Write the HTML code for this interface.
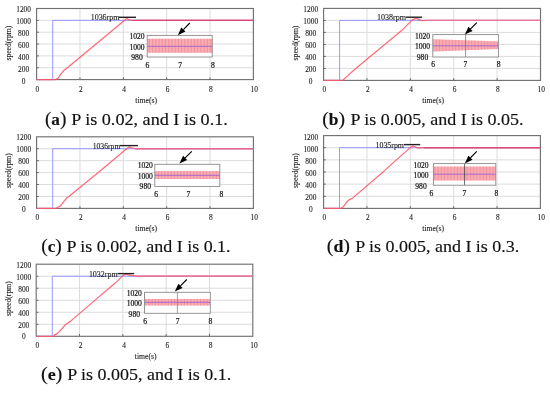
<!DOCTYPE html>
<html><head><meta charset="utf-8"><title>Speed response figures</title>
<style>
html,body{margin:0;padding:0;background:#fff;}
body{width:550px;height:394px;overflow:hidden;}
svg{display:block;filter:blur(0.35px);}
.gr{stroke:#dcdcdc;stroke-width:1;}
.tk{stroke:#555;stroke-width:0.9;}
.fr{fill:none;stroke:#707070;stroke-width:1.15;}
.bl{fill:none;stroke:#9494ff;stroke-width:0.95;}
.rd{fill:none;stroke:#ff5060;stroke-width:1.25;stroke-linejoin:round;stroke-opacity:0.85;}
.rf{stroke-width:1.3;stroke-opacity:0.95;}
.ax{font-family:"Liberation Serif", serif;font-size:7.4px;fill:#1a1a1a;stroke:#1a1a1a;stroke-width:0.1;}
.sp{font-size:7.2px;}
.ai{font-family:"Liberation Serif", serif;font-size:7.6px;fill:#111;stroke:#111;stroke-width:0.2;}
.pk{stroke:#222;stroke-width:1.4;}
.ib{stroke:#a56ad0;stroke-width:1;}
.st{stroke:#f37280;stroke-width:0.7;fill:none;}
.ig{stroke-width:0.8;}
.ifr{fill:none;stroke:#8a8a8a;stroke-width:0.9;}
.ar{stroke:#000;stroke-width:1.1;}
.cap{font-family:"Liberation Serif", serif;font-size:16.5px;fill:#111;stroke:#111;stroke-width:0.15;}
.cpl{font-size:19px;}
</style></head>
<body>
<svg width="550" height="394" viewBox="0 0 550 394">
<g><line x1="79.96" y1="8.5" x2="79.96" y2="79.6" class="gr"/>
<line x1="123.32" y1="8.5" x2="123.32" y2="79.6" class="gr"/>
<line x1="166.68" y1="8.5" x2="166.68" y2="79.6" class="gr"/>
<line x1="210.04" y1="8.5" x2="210.04" y2="79.6" class="gr"/>
<line x1="36.6" y1="67.75" x2="253.4" y2="67.75" class="gr"/>
<line x1="36.6" y1="55.9" x2="253.4" y2="55.9" class="gr"/>
<line x1="36.6" y1="44.05" x2="253.4" y2="44.05" class="gr"/>
<line x1="36.6" y1="32.2" x2="253.4" y2="32.2" class="gr"/>
<line x1="36.6" y1="20.35" x2="253.4" y2="20.35" class="gr"/>
<line x1="79.96" y1="79.6" x2="79.96" y2="77.4" class="tk"/>
<line x1="123.32" y1="79.6" x2="123.32" y2="77.4" class="tk"/>
<line x1="166.68" y1="79.6" x2="166.68" y2="77.4" class="tk"/>
<line x1="210.04" y1="79.6" x2="210.04" y2="77.4" class="tk"/>
<line x1="36.6" y1="67.75" x2="38.8" y2="67.75" class="tk"/>
<line x1="36.6" y1="55.9" x2="38.8" y2="55.9" class="tk"/>
<line x1="36.6" y1="44.05" x2="38.8" y2="44.05" class="tk"/>
<line x1="36.6" y1="32.2" x2="38.8" y2="32.2" class="tk"/>
<line x1="36.6" y1="20.35" x2="38.8" y2="20.35" class="tk"/>
<rect x="36.6" y="8.5" width="216.8" height="71.1" class="fr"/>
<polyline points="36.6,79.6 52.7,79.6 52.7,20.35 253.4,20.35" class="bl"/>
<polyline points="36.6,79.6 55.2,79.6 58.3,78 61,73.8 63.7,70.6 67.1,68 95.75,44.3 124.3,20.4 126.7,18.4 130,20.2 133,20.4 253.4,20.35" class="rd"/>
<line x1="133" y1="20.35" x2="253.4" y2="20.35" class="rf" stroke="#d84478"/>
<text x="23.6" y="83.7" class="ax" text-anchor="middle">0</text>
<text x="23.6" y="72.45" class="ax" text-anchor="middle">200</text>
<text x="23.6" y="60.4" class="ax" text-anchor="middle">400</text>
<text x="23.6" y="48.35" class="ax" text-anchor="middle">600</text>
<text x="23.6" y="36.3" class="ax" text-anchor="middle">800</text>
<text x="23.6" y="24.25" class="ax" text-anchor="middle">1000</text>
<text x="23.6" y="12.2" class="ax" text-anchor="middle">1200</text>
<text x="37.4" y="92.3" class="ax" text-anchor="middle">0</text>
<text x="80.76" y="92.3" class="ax" text-anchor="middle">2</text>
<text x="124.12" y="92.3" class="ax" text-anchor="middle">4</text>
<text x="167.48" y="92.3" class="ax" text-anchor="middle">6</text>
<text x="210.84" y="92.3" class="ax" text-anchor="middle">8</text>
<text x="254.2" y="92.3" class="ax" text-anchor="middle">10</text>
<text x="135.3" y="102.9" class="ax" textLength="21.8" lengthAdjust="spacingAndGlyphs">time(s)</text>
<text transform="translate(10.95,43.2) rotate(-90)" class="ax sp" x="-17.4" textLength="34.8" lengthAdjust="spacingAndGlyphs">speed(rpm)</text>
<text x="90.7" y="20.3" class="ax" textLength="28.7" lengthAdjust="spacingAndGlyphs">1036rpm</text>
<line x1="119" y1="17.3" x2="136" y2="17.3" class="pk"/>
<rect x="147.2" y="35.4" width="65" height="21.6" fill="#fff" stroke="none"/>
<polygon points="147.7,38.8 211.7,38.8 211.7,52.8 147.7,52.8" fill="#fbd0d4"/>
<path d="M148.1 38.8V52.8M149.55 38.8V52.8M151 38.8V52.8M152.45 38.8V52.8M153.9 38.8V52.8M155.35 38.8V52.8M156.8 38.8V52.8M158.25 38.8V52.8M159.7 38.8V52.8M161.15 38.8V52.8M162.6 38.8V52.8M164.05 38.8V52.8M165.5 38.8V52.8M166.95 38.8V52.8M168.4 38.8V52.8M169.85 38.8V52.8M171.3 38.8V52.8M172.75 38.8V52.8M174.2 38.8V52.8M175.65 38.8V52.8M177.1 38.8V52.8M178.55 38.8V52.8M180 38.8V52.8M181.45 38.8V52.8M182.9 38.8V52.8M184.35 38.8V52.8M185.8 38.8V52.8M187.25 38.8V52.8M188.7 38.8V52.8M190.15 38.8V52.8M191.6 38.8V52.8M193.05 38.8V52.8M194.5 38.8V52.8M195.95 38.8V52.8M197.4 38.8V52.8M198.85 38.8V52.8M200.3 38.8V52.8M201.75 38.8V52.8M203.2 38.8V52.8M204.65 38.8V52.8M206.1 38.8V52.8M207.55 38.8V52.8M209 38.8V52.8M210.45 38.8V52.8M211.9 38.8V52.8" class="st"/>
<line x1="147.2" y1="46.3" x2="212.2" y2="46.3" class="ib"/>
<rect x="147.2" y="35.4" width="65" height="21.6" class="ifr"/>
<text x="137" y="39.4" class="ai" text-anchor="middle">1020</text>
<text x="137" y="49.5" class="ai" text-anchor="middle">1000</text>
<text x="137" y="59.9" class="ai" text-anchor="middle">980</text>
<text x="147.5" y="67.7" class="ai" text-anchor="middle">6</text>
<text x="180.2" y="67.7" class="ai" text-anchor="middle">7</text>
<text x="213" y="67.7" class="ai" text-anchor="middle">8</text>
<line x1="189.8" y1="23" x2="183.39" y2="29.57" class="ar"/>
<polygon points="177.8,35.3 181.31,27.55 185.46,31.6" fill="#000"/>
<text x="44.9" y="124.9" class="cap cpl" textLength="21.5" lengthAdjust="spacingAndGlyphs">(<tspan font-weight="bold" font-size="16.8px">a</tspan>)</text>
<text x="71.2" y="124.9" class="cap" textLength="156.6" lengthAdjust="spacingAndGlyphs">P is 0.02, and I is 0.1.</text></g>
<g><line x1="366.98" y1="8.4" x2="366.98" y2="80.4" class="gr"/>
<line x1="410.36" y1="8.4" x2="410.36" y2="80.4" class="gr"/>
<line x1="453.74" y1="8.4" x2="453.74" y2="80.4" class="gr"/>
<line x1="497.12" y1="8.4" x2="497.12" y2="80.4" class="gr"/>
<line x1="323.6" y1="68.4" x2="540.5" y2="68.4" class="gr"/>
<line x1="323.6" y1="56.4" x2="540.5" y2="56.4" class="gr"/>
<line x1="323.6" y1="44.4" x2="540.5" y2="44.4" class="gr"/>
<line x1="323.6" y1="32.4" x2="540.5" y2="32.4" class="gr"/>
<line x1="323.6" y1="20.4" x2="540.5" y2="20.4" class="gr"/>
<line x1="366.98" y1="80.4" x2="366.98" y2="78.2" class="tk"/>
<line x1="410.36" y1="80.4" x2="410.36" y2="78.2" class="tk"/>
<line x1="453.74" y1="80.4" x2="453.74" y2="78.2" class="tk"/>
<line x1="497.12" y1="80.4" x2="497.12" y2="78.2" class="tk"/>
<line x1="323.6" y1="68.4" x2="325.8" y2="68.4" class="tk"/>
<line x1="323.6" y1="56.4" x2="325.8" y2="56.4" class="tk"/>
<line x1="323.6" y1="44.4" x2="325.8" y2="44.4" class="tk"/>
<line x1="323.6" y1="32.4" x2="325.8" y2="32.4" class="tk"/>
<line x1="323.6" y1="20.4" x2="325.8" y2="20.4" class="tk"/>
<rect x="323.6" y="8.4" width="216.9" height="72" class="fr"/>
<polyline points="323.6,80.4 339.6,80.4 339.6,20.4 540.5,20.4" class="bl"/>
<polyline points="323.6,80.4 342.6,80.4 345.5,77.8 348,75.6 351.3,72.4 355.8,68.6 384.7,44.5 402.9,29.4 411.8,20.4 415.7,18.4 422.1,20.6 426,20.4 540.5,20.4" class="rd"/>
<line x1="426" y1="20.4" x2="540.5" y2="20.4" class="rf" stroke="#e47aa0"/>
<text x="310.7" y="83.7" class="ax" text-anchor="middle">0</text>
<text x="310.7" y="72.45" class="ax" text-anchor="middle">200</text>
<text x="310.7" y="60.4" class="ax" text-anchor="middle">400</text>
<text x="310.7" y="48.35" class="ax" text-anchor="middle">600</text>
<text x="310.7" y="36.3" class="ax" text-anchor="middle">800</text>
<text x="310.7" y="24.25" class="ax" text-anchor="middle">1000</text>
<text x="310.7" y="12.2" class="ax" text-anchor="middle">1200</text>
<text x="324.4" y="92.1" class="ax" text-anchor="middle">0</text>
<text x="367.78" y="92.1" class="ax" text-anchor="middle">2</text>
<text x="411.16" y="92.1" class="ax" text-anchor="middle">4</text>
<text x="454.54" y="92.1" class="ax" text-anchor="middle">6</text>
<text x="497.92" y="92.1" class="ax" text-anchor="middle">8</text>
<text x="541.3" y="92.1" class="ax" text-anchor="middle">10</text>
<text x="422.35" y="103" class="ax" textLength="21.8" lengthAdjust="spacingAndGlyphs">time(s)</text>
<text transform="translate(298.4,43) rotate(-90)" class="ax sp" x="-17.4" textLength="34.8" lengthAdjust="spacingAndGlyphs">speed(rpm)</text>
<text x="376.9" y="20.2" class="ax" textLength="29" lengthAdjust="spacingAndGlyphs">1038rpm</text>
<line x1="405.8" y1="17.2" x2="422.1" y2="17.2" class="pk"/>
<rect x="432.8" y="34.6" width="65.6" height="22.4" fill="#fff" stroke="none"/>
<polygon points="433.3,39.2 497.9,41.4 497.9,49 433.3,51.5" fill="#fbd0d4"/>
<path d="M433.7 39.23V51.47M435.15 39.28V51.41M436.6 39.33V51.36M438.05 39.38V51.3M439.5 39.42V51.24M440.95 39.47V51.19M442.4 39.52V51.13M443.85 39.57V51.08M445.3 39.62V51.02M446.75 39.67V50.97M448.2 39.72V50.91M449.65 39.77V50.86M451.1 39.81V50.8M452.55 39.86V50.75M454 39.91V50.69M455.45 39.96V50.64M456.9 40.01V50.58M458.35 40.06V50.53M459.8 40.11V50.47M461.25 40.15V50.42M462.7 40.2V50.36M464.15 40.25V50.31M465.6 40.3V50.25M467.05 40.35V50.19M468.5 40.4V50.14M469.95 40.45V50.08M471.4 40.49V50.03M472.85 40.54V49.97M474.3 40.59V49.92M475.75 40.64V49.86M477.2 40.69V49.81M478.65 40.74V49.75M480.1 40.79V49.7M481.55 40.83V49.64M483 40.88V49.59M484.45 40.93V49.53M485.9 40.98V49.48M487.35 41.03V49.42M488.8 41.08V49.37M490.25 41.13V49.31M491.7 41.18V49.26M493.15 41.22V49.2M494.6 41.27V49.14M496.05 41.32V49.09M497.5 41.37V49.03" class="st"/>
<line x1="432.8" y1="45.8" x2="498.4" y2="45.8" class="ib"/>
<line x1="465.6" y1="34.6" x2="465.6" y2="57" class="ig" stroke="#777"/>
<rect x="432.8" y="34.6" width="65.6" height="22.4" class="ifr"/>
<text x="422.5" y="39.2" class="ai" text-anchor="middle">1020</text>
<text x="422.5" y="49" class="ai" text-anchor="middle">1000</text>
<text x="422.5" y="60.2" class="ai" text-anchor="middle">980</text>
<text x="433.1" y="67.3" class="ai" text-anchor="middle">6</text>
<text x="465.5" y="67.3" class="ai" text-anchor="middle">7</text>
<text x="498.6" y="67.3" class="ai" text-anchor="middle">8</text>
<line x1="476.8" y1="22.7" x2="470.53" y2="28.82" class="ar"/>
<polygon points="464.8,34.4 468.5,26.74 472.55,30.89" fill="#000"/>
<text x="322.3" y="124.6" class="cap cpl" textLength="22.8" lengthAdjust="spacingAndGlyphs">(<tspan font-weight="bold" font-size="16.8px">b</tspan>)</text>
<text x="350.4" y="124.6" class="cap" textLength="173.2" lengthAdjust="spacingAndGlyphs">P is 0.005, and I is 0.05.</text></g>
<g><line x1="79.96" y1="136.8" x2="79.96" y2="208.4" class="gr"/>
<line x1="123.32" y1="136.8" x2="123.32" y2="208.4" class="gr"/>
<line x1="166.68" y1="136.8" x2="166.68" y2="208.4" class="gr"/>
<line x1="210.04" y1="136.8" x2="210.04" y2="208.4" class="gr"/>
<line x1="36.6" y1="196.47" x2="253.4" y2="196.47" class="gr"/>
<line x1="36.6" y1="184.53" x2="253.4" y2="184.53" class="gr"/>
<line x1="36.6" y1="172.6" x2="253.4" y2="172.6" class="gr"/>
<line x1="36.6" y1="160.67" x2="253.4" y2="160.67" class="gr"/>
<line x1="36.6" y1="148.73" x2="253.4" y2="148.73" class="gr"/>
<line x1="79.96" y1="208.4" x2="79.96" y2="206.2" class="tk"/>
<line x1="123.32" y1="208.4" x2="123.32" y2="206.2" class="tk"/>
<line x1="166.68" y1="208.4" x2="166.68" y2="206.2" class="tk"/>
<line x1="210.04" y1="208.4" x2="210.04" y2="206.2" class="tk"/>
<line x1="36.6" y1="196.47" x2="38.8" y2="196.47" class="tk"/>
<line x1="36.6" y1="184.53" x2="38.8" y2="184.53" class="tk"/>
<line x1="36.6" y1="172.6" x2="38.8" y2="172.6" class="tk"/>
<line x1="36.6" y1="160.67" x2="38.8" y2="160.67" class="tk"/>
<line x1="36.6" y1="148.73" x2="38.8" y2="148.73" class="tk"/>
<rect x="36.6" y="136.8" width="216.8" height="71.6" class="fr"/>
<polyline points="36.6,208.4 52.7,208.4 52.7,148.73 253.4,148.73" class="bl"/>
<polyline points="36.6,208.4 56,208.4 58.8,206.7 60.5,205.9 63.3,202.2 67.2,197.5 68.8,196.4 98.3,172.5 126.9,148.6 129.1,146.9 132.5,148 135.5,148.7 253.4,148.73" class="rd"/>
<line x1="135.5" y1="148.73" x2="253.4" y2="148.73" class="rf" stroke="#e26a98"/>
<text x="23.75" y="211.7" class="ax" text-anchor="middle">0</text>
<text x="23.75" y="200.45" class="ax" text-anchor="middle">200</text>
<text x="23.75" y="188.4" class="ax" text-anchor="middle">400</text>
<text x="23.75" y="176.35" class="ax" text-anchor="middle">600</text>
<text x="23.75" y="164.3" class="ax" text-anchor="middle">800</text>
<text x="23.75" y="152.25" class="ax" text-anchor="middle">1000</text>
<text x="23.75" y="140.2" class="ax" text-anchor="middle">1200</text>
<text x="37.4" y="220.1" class="ax" text-anchor="middle">0</text>
<text x="80.76" y="220.1" class="ax" text-anchor="middle">2</text>
<text x="124.12" y="220.1" class="ax" text-anchor="middle">4</text>
<text x="167.48" y="220.1" class="ax" text-anchor="middle">6</text>
<text x="210.84" y="220.1" class="ax" text-anchor="middle">8</text>
<text x="254.2" y="220.1" class="ax" text-anchor="middle">10</text>
<text x="135.3" y="231" class="ax" textLength="21.8" lengthAdjust="spacingAndGlyphs">time(s)</text>
<text transform="translate(10.7,170.6) rotate(-90)" class="ax sp" x="-17.4" textLength="34.8" lengthAdjust="spacingAndGlyphs">speed(rpm)</text>
<text x="92.7" y="148.6" class="ax" textLength="27.7" lengthAdjust="spacingAndGlyphs">1036rpm</text>
<line x1="120" y1="145.6" x2="138" y2="145.6" class="pk"/>
<rect x="154.8" y="164.3" width="65" height="22.1" fill="#fff" stroke="none"/>
<polygon points="155.3,171.1 219.3,171.1 219.3,179 155.3,179" fill="#fbd0d4"/>
<path d="M155.7 171.1V179M157.15 171.1V179M158.6 171.1V179M160.05 171.1V179M161.5 171.1V179M162.95 171.1V179M164.4 171.1V179M165.85 171.1V179M167.3 171.1V179M168.75 171.1V179M170.2 171.1V179M171.65 171.1V179M173.1 171.1V179M174.55 171.1V179M176 171.1V179M177.45 171.1V179M178.9 171.1V179M180.35 171.1V179M181.8 171.1V179M183.25 171.1V179M184.7 171.1V179M186.15 171.1V179M187.6 171.1V179M189.05 171.1V179M190.5 171.1V179M191.95 171.1V179M193.4 171.1V179M194.85 171.1V179M196.3 171.1V179M197.75 171.1V179M199.2 171.1V179M200.65 171.1V179M202.1 171.1V179M203.55 171.1V179M205 171.1V179M206.45 171.1V179M207.9 171.1V179M209.35 171.1V179M210.8 171.1V179M212.25 171.1V179M213.7 171.1V179M215.15 171.1V179M216.6 171.1V179M218.05 171.1V179M219.5 171.1V179" class="st"/>
<line x1="154.8" y1="175.3" x2="219.8" y2="175.3" class="ib"/>
<rect x="154.8" y="164.3" width="65" height="22.1" class="ifr"/>
<text x="145.3" y="168.4" class="ai" text-anchor="middle">1020</text>
<text x="145.3" y="178.5" class="ai" text-anchor="middle">1000</text>
<text x="145.3" y="189.4" class="ai" text-anchor="middle">980</text>
<text x="156.1" y="196.9" class="ai" text-anchor="middle">6</text>
<text x="188.5" y="196.9" class="ai" text-anchor="middle">7</text>
<text x="221.3" y="196.9" class="ai" text-anchor="middle">8</text>
<line x1="191.8" y1="151.4" x2="185.15" y2="157.84" class="ar"/>
<polygon points="179.4,163.4 183.13,155.75 187.17,159.92" fill="#000"/>
<text x="41.2" y="252.3" class="cap cpl" textLength="20.6" lengthAdjust="spacingAndGlyphs">(<tspan font-weight="bold" font-size="16.8px">c</tspan>)</text>
<text x="66.5" y="252.3" class="cap" textLength="164.1" lengthAdjust="spacingAndGlyphs">P is 0.002, and I is 0.1.</text></g>
<g><line x1="366.96" y1="135.6" x2="366.96" y2="208.4" class="gr"/>
<line x1="410.32" y1="135.6" x2="410.32" y2="208.4" class="gr"/>
<line x1="453.68" y1="135.6" x2="453.68" y2="208.4" class="gr"/>
<line x1="497.04" y1="135.6" x2="497.04" y2="208.4" class="gr"/>
<line x1="323.6" y1="196.27" x2="540.4" y2="196.27" class="gr"/>
<line x1="323.6" y1="184.13" x2="540.4" y2="184.13" class="gr"/>
<line x1="323.6" y1="172" x2="540.4" y2="172" class="gr"/>
<line x1="323.6" y1="159.87" x2="540.4" y2="159.87" class="gr"/>
<line x1="323.6" y1="147.73" x2="540.4" y2="147.73" class="gr"/>
<line x1="366.96" y1="208.4" x2="366.96" y2="206.2" class="tk"/>
<line x1="410.32" y1="208.4" x2="410.32" y2="206.2" class="tk"/>
<line x1="453.68" y1="208.4" x2="453.68" y2="206.2" class="tk"/>
<line x1="497.04" y1="208.4" x2="497.04" y2="206.2" class="tk"/>
<line x1="323.6" y1="196.27" x2="325.8" y2="196.27" class="tk"/>
<line x1="323.6" y1="184.13" x2="325.8" y2="184.13" class="tk"/>
<line x1="323.6" y1="172" x2="325.8" y2="172" class="tk"/>
<line x1="323.6" y1="159.87" x2="325.8" y2="159.87" class="tk"/>
<line x1="323.6" y1="147.73" x2="325.8" y2="147.73" class="tk"/>
<rect x="323.6" y="135.6" width="216.8" height="72.8" class="fr"/>
<polyline points="323.6,208.4 339.5,208.4 339.5,147.73 540.4,147.73" class="bl"/>
<polyline points="323.6,208.4 340.8,208.4 343.6,206.4 346.4,202.5 349.2,199.7 352,198.6 354.8,196.1 383.1,171.9 401.4,155.4 410.3,147.6 413,146 418.3,148.1 423.8,147.7 540.4,147.73" class="rd"/>
<line x1="423.8" y1="147.73" x2="540.4" y2="147.73" class="rf" stroke="#d84a7c"/>
<text x="310.8" y="211.7" class="ax" text-anchor="middle">0</text>
<text x="310.8" y="200.4" class="ax" text-anchor="middle">200</text>
<text x="310.8" y="188.3" class="ax" text-anchor="middle">400</text>
<text x="310.8" y="176.2" class="ax" text-anchor="middle">600</text>
<text x="310.8" y="164.1" class="ax" text-anchor="middle">800</text>
<text x="310.8" y="152" class="ax" text-anchor="middle">1000</text>
<text x="310.8" y="139.9" class="ax" text-anchor="middle">1200</text>
<text x="324.4" y="220.1" class="ax" text-anchor="middle">0</text>
<text x="367.76" y="220.1" class="ax" text-anchor="middle">2</text>
<text x="411.12" y="220.1" class="ax" text-anchor="middle">4</text>
<text x="454.48" y="220.1" class="ax" text-anchor="middle">6</text>
<text x="497.84" y="220.1" class="ax" text-anchor="middle">8</text>
<text x="541.2" y="220.1" class="ax" text-anchor="middle">10</text>
<text x="422.3" y="230.9" class="ax" textLength="21.8" lengthAdjust="spacingAndGlyphs">time(s)</text>
<text transform="translate(297.7,170.5) rotate(-90)" class="ax sp" x="-17.4" textLength="34.8" lengthAdjust="spacingAndGlyphs">speed(rpm)</text>
<text x="375.5" y="147.6" class="ax" textLength="28.5" lengthAdjust="spacingAndGlyphs">1035rpm</text>
<line x1="403.8" y1="144.6" x2="420.2" y2="144.6" class="pk"/>
<rect x="433.4" y="163.6" width="62.4" height="21.6" fill="#fff" stroke="none"/>
<polygon points="433.9,166.6 495.3,166.6 495.3,180.5 433.9,180.5" fill="#fbd0d4"/>
<path d="M434.3 166.6V180.5M435.75 166.6V180.5M437.2 166.6V180.5M438.65 166.6V180.5M440.1 166.6V180.5M441.55 166.6V180.5M443 166.6V180.5M444.45 166.6V180.5M445.9 166.6V180.5M447.35 166.6V180.5M448.8 166.6V180.5M450.25 166.6V180.5M451.7 166.6V180.5M453.15 166.6V180.5M454.6 166.6V180.5M456.05 166.6V180.5M457.5 166.6V180.5M458.95 166.6V180.5M460.4 166.6V180.5M461.85 166.6V180.5M463.3 166.6V180.5M464.75 166.6V180.5M466.2 166.6V180.5M467.65 166.6V180.5M469.1 166.6V180.5M470.55 166.6V180.5M472 166.6V180.5M473.45 166.6V180.5M474.9 166.6V180.5M476.35 166.6V180.5M477.8 166.6V180.5M479.25 166.6V180.5M480.7 166.6V180.5M482.15 166.6V180.5M483.6 166.6V180.5M485.05 166.6V180.5M486.5 166.6V180.5M487.95 166.6V180.5M489.4 166.6V180.5M490.85 166.6V180.5M492.3 166.6V180.5M493.75 166.6V180.5M495.2 166.6V180.5" class="st"/>
<line x1="433.4" y1="174.2" x2="495.8" y2="174.2" class="ib"/>
<line x1="464.6" y1="163.6" x2="464.6" y2="185.2" class="ig" stroke="#444"/>
<rect x="433.4" y="163.6" width="62.4" height="21.6" class="ifr"/>
<text x="421" y="167.7" class="ai" text-anchor="middle">1020</text>
<text x="421" y="178" class="ai" text-anchor="middle">1000</text>
<text x="421" y="188.9" class="ai" text-anchor="middle">980</text>
<text x="431.5" y="195.9" class="ai" text-anchor="middle">6</text>
<text x="464.4" y="195.9" class="ai" text-anchor="middle">7</text>
<text x="496.3" y="195.9" class="ai" text-anchor="middle">8</text>
<line x1="476.8" y1="151.4" x2="470.46" y2="157.74" class="ar"/>
<polygon points="464.8,163.4 468.41,155.69 472.51,159.79" fill="#000"/>
<text x="326.7" y="252.2" class="cap cpl" textLength="23.3" lengthAdjust="spacingAndGlyphs">(<tspan font-weight="bold" font-size="16.8px">d</tspan>)</text>
<text x="355.3" y="252.2" class="cap" textLength="164" lengthAdjust="spacingAndGlyphs">P is 0.005, and I is 0.3.</text></g>
<g><line x1="79.52" y1="264.2" x2="79.52" y2="336.3" class="gr"/>
<line x1="122.84" y1="264.2" x2="122.84" y2="336.3" class="gr"/>
<line x1="166.16" y1="264.2" x2="166.16" y2="336.3" class="gr"/>
<line x1="209.48" y1="264.2" x2="209.48" y2="336.3" class="gr"/>
<line x1="36.2" y1="324.28" x2="252.8" y2="324.28" class="gr"/>
<line x1="36.2" y1="312.27" x2="252.8" y2="312.27" class="gr"/>
<line x1="36.2" y1="300.25" x2="252.8" y2="300.25" class="gr"/>
<line x1="36.2" y1="288.23" x2="252.8" y2="288.23" class="gr"/>
<line x1="36.2" y1="276.22" x2="252.8" y2="276.22" class="gr"/>
<line x1="79.52" y1="336.3" x2="79.52" y2="334.1" class="tk"/>
<line x1="122.84" y1="336.3" x2="122.84" y2="334.1" class="tk"/>
<line x1="166.16" y1="336.3" x2="166.16" y2="334.1" class="tk"/>
<line x1="209.48" y1="336.3" x2="209.48" y2="334.1" class="tk"/>
<line x1="36.2" y1="324.28" x2="38.4" y2="324.28" class="tk"/>
<line x1="36.2" y1="312.27" x2="38.4" y2="312.27" class="tk"/>
<line x1="36.2" y1="300.25" x2="38.4" y2="300.25" class="tk"/>
<line x1="36.2" y1="288.23" x2="38.4" y2="288.23" class="tk"/>
<line x1="36.2" y1="276.22" x2="38.4" y2="276.22" class="tk"/>
<rect x="36.2" y="264.2" width="216.6" height="72.1" class="fr"/>
<polyline points="36.2,336.3 52.3,336.3 52.3,276.22 252.8,276.22" class="bl"/>
<polyline points="36.2,336.3 53.6,336.3 54.7,334.7 56.4,334.2 59.2,331.6 62,328.8 65.3,324.7 68.7,322.4 70,321.6 95.1,300.1 114.7,283.6 121.1,277.4 122.7,275.8 125.7,274.2 131.2,275.4 135.8,276.1 252.8,276.22" class="rd"/>
<line x1="135.8" y1="276.22" x2="252.8" y2="276.22" class="rf" stroke="#e67ea6"/>
<text x="23.75" y="339.3" class="ax" text-anchor="middle">0</text>
<text x="23.75" y="328.07" class="ax" text-anchor="middle">200</text>
<text x="23.75" y="316.03" class="ax" text-anchor="middle">400</text>
<text x="23.75" y="304" class="ax" text-anchor="middle">600</text>
<text x="23.75" y="291.97" class="ax" text-anchor="middle">800</text>
<text x="23.75" y="279.93" class="ax" text-anchor="middle">1000</text>
<text x="23.75" y="267.9" class="ax" text-anchor="middle">1200</text>
<text x="37.4" y="348.1" class="ax" text-anchor="middle">0</text>
<text x="80.72" y="348.1" class="ax" text-anchor="middle">2</text>
<text x="124.04" y="348.1" class="ax" text-anchor="middle">4</text>
<text x="167.36" y="348.1" class="ax" text-anchor="middle">6</text>
<text x="210.68" y="348.1" class="ax" text-anchor="middle">8</text>
<text x="254" y="348.1" class="ax" text-anchor="middle">10</text>
<text x="134.8" y="358.9" class="ax" textLength="21.8" lengthAdjust="spacingAndGlyphs">time(s)</text>
<text transform="translate(10.7,298.7) rotate(-90)" class="ax sp" x="-17.4" textLength="34.8" lengthAdjust="spacingAndGlyphs">speed(rpm)</text>
<text x="88.9" y="276.6" class="ax" textLength="28.7" lengthAdjust="spacingAndGlyphs">1032rpm</text>
<line x1="117.5" y1="273.6" x2="134.2" y2="273.6" class="pk"/>
<rect x="144.5" y="292.3" width="65.8" height="21" fill="#fff" stroke="none"/>
<polygon points="145,298.9 209.8,298.9 209.8,305.5 145,305.5" fill="#fbd0d4"/>
<path d="M145.4 298.9V305.5M146.85 298.9V305.5M148.3 298.9V305.5M149.75 298.9V305.5M151.2 298.9V305.5M152.65 298.9V305.5M154.1 298.9V305.5M155.55 298.9V305.5M157 298.9V305.5M158.45 298.9V305.5M159.9 298.9V305.5M161.35 298.9V305.5M162.8 298.9V305.5M164.25 298.9V305.5M165.7 298.9V305.5M167.15 298.9V305.5M168.6 298.9V305.5M170.05 298.9V305.5M171.5 298.9V305.5M172.95 298.9V305.5M174.4 298.9V305.5M175.85 298.9V305.5M177.3 298.9V305.5M178.75 298.9V305.5M180.2 298.9V305.5M181.65 298.9V305.5M183.1 298.9V305.5M184.55 298.9V305.5M186 298.9V305.5M187.45 298.9V305.5M188.9 298.9V305.5M190.35 298.9V305.5M191.8 298.9V305.5M193.25 298.9V305.5M194.7 298.9V305.5M196.15 298.9V305.5M197.6 298.9V305.5M199.05 298.9V305.5M200.5 298.9V305.5M201.95 298.9V305.5M203.4 298.9V305.5M204.85 298.9V305.5M206.3 298.9V305.5M207.75 298.9V305.5M209.2 298.9V305.5" class="st"/>
<line x1="144.5" y1="302.3" x2="210.3" y2="302.3" class="ib"/>
<line x1="177.4" y1="292.3" x2="177.4" y2="313.3" class="ig" stroke="#888"/>
<rect x="144.5" y="292.3" width="65.8" height="21" class="ifr"/>
<text x="134.3" y="296.2" class="ai" text-anchor="middle">1020</text>
<text x="134.3" y="305.7" class="ai" text-anchor="middle">1000</text>
<text x="134.3" y="316.8" class="ai" text-anchor="middle">980</text>
<text x="145.1" y="324.4" class="ai" text-anchor="middle">6</text>
<text x="177.6" y="324.4" class="ai" text-anchor="middle">7</text>
<text x="210.3" y="324.4" class="ai" text-anchor="middle">8</text>
<line x1="186.8" y1="279.5" x2="180.46" y2="285.84" class="ar"/>
<polygon points="174.8,291.5 178.41,283.79 182.51,287.89" fill="#000"/>
<text x="40.9" y="380" class="cap cpl" textLength="21.5" lengthAdjust="spacingAndGlyphs">(<tspan font-weight="bold" font-size="16.8px">e</tspan>)</text>
<text x="67.2" y="380" class="cap" textLength="164.1" lengthAdjust="spacingAndGlyphs">P is 0.005, and I is 0.1.</text></g>
</svg>
</body></html>
